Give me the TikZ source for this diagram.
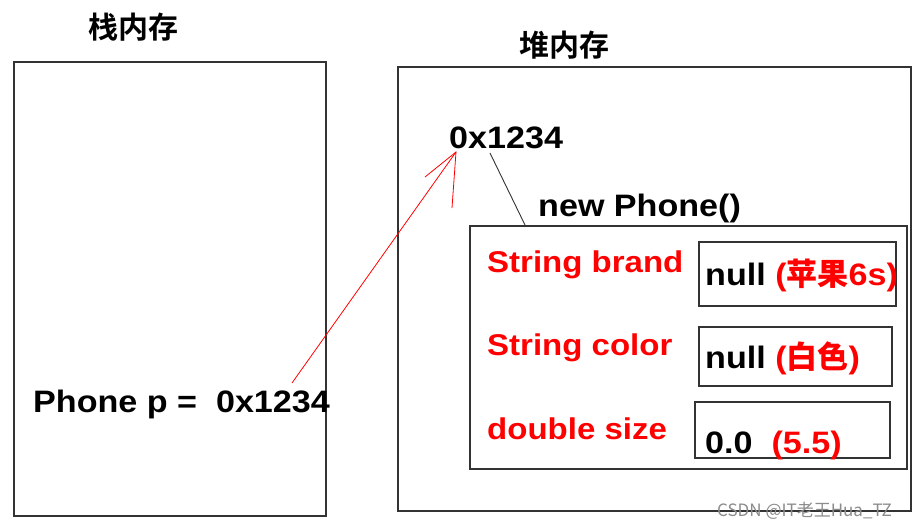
\documentclass[tikz,border=0pt]{standalone}
\usepackage{fontspec}
\setmainfont[FakeStretch=1.1]{Liberation Sans}
\newfontfamily\cjk{Noto Sans CJK SC}
\newfontfamily\cjkb{Noto Sans CJK SC Bold}
\begin{document}
\begin{tikzpicture}[x=1pt,y=-1pt,
  box/.style={draw=black!80,line width=1.6pt,inner sep=0pt,anchor=north west},
  big/.style={font=\fontsize{31}{36}\selectfont\bfseries,inner sep=0pt,anchor=base west},
  lbl/.style={font=\fontsize{30}{34}\selectfont\bfseries,inner sep=0pt,anchor=base west,text=red},
  title/.style={font=\fontsize{30}{34}\selectfont\cjkb,inner sep=0pt,anchor=base west},
  arr/.style={draw=red,line width=0.8pt}]
\useasboundingbox[fill=white] (0,0) rectangle (924,530);
% boxes
\node[box,minimum width=312pt,minimum height=454pt] (stack) at (13,61) {};
\node[box,minimum width=513pt,minimum height=444pt] (heap) at (397,66) {};
\node[box,minimum width=437pt,minimum height=243pt] (obj) at (469,225) {};
\node[box,minimum width=197pt,minimum height=64pt] (vb) at (698,241) {};
\node[box,minimum width=193pt,minimum height=59pt] (vc) at (698,326) {};
\node[box,minimum width=195pt,minimum height=56pt] (vs) at (694,401) {};
% titles
\node[title] (t1) at (88,38) {栈内存};
\node[title] (t2) at (519,56) {堆内存};
% texts
\node[big] (addr) at (449,148) {0x1234};
\node[big] (np) at (538,216) {new Phone()};
\node[big] (pp) at (33,412) {Phone p =\ \ 0x1234};
\node[lbl] (lb) at (487,272) {String brand};
\node[lbl] (lc) at (487,355) {String color};
\node[lbl] (ls) at (487,439) {double size};
\node[big] (nb) at (705,285) {null {\color{red}(\cjkb 苹果\bfseries\rmfamily 6s)}};
\node[big] (nc) at (705,368) {null {\color{red}(\cjkb 白色\bfseries\rmfamily )}};
\node[big] (ns) at (705,453) {0.0\ \ {\color{red}(5.5)}};
% connector addr -> object
\coordinate (la) at (490,153);
\coordinate (lo) at (525,225);
\draw[black!80,line width=0.9pt] (la) -- (lo);
% red arrow
\coordinate (ps) at (292,383);
\coordinate (tip) at (456,152);
\coordinate (h1) at (425,177);
\coordinate (h2) at (452,208);
\draw[arr] (ps) -- (tip);
\draw[arr] (h1) -- (tip) -- (h2);
% watermark
\node[font=\fontsize{17}{19}\selectfont\cjk,text=black!45,inner sep=0pt,anchor=base west] (wm) at (717,516) {CSDN @IT老王Hua\_TZ};
\end{tikzpicture}
\end{document}
